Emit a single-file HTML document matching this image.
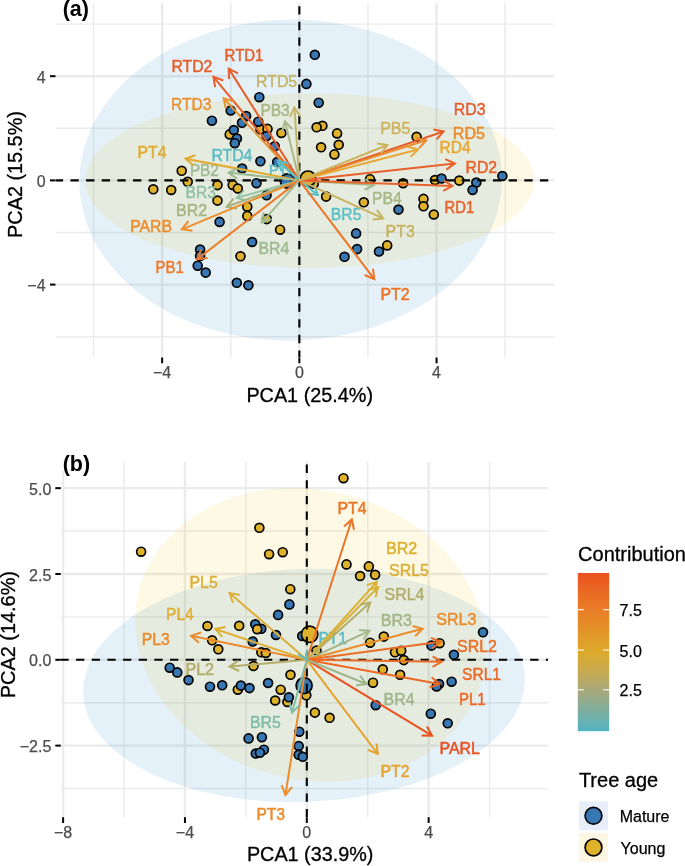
<!DOCTYPE html><html><head><meta charset="utf-8"><style>html,body{margin:0;padding:0;background:#fff;overflow:hidden}svg{display:block;will-change:transform}text{font-family:"Liberation Sans",sans-serif}</style></head><body>
<svg width="685" height="866" viewBox="0 0 685 866">
<rect width="685" height="866" fill="#fff"/>
<defs>
<clipPath id="ca"><rect x="55.5" y="2.9" width="499.20" height="354.60"/></clipPath>
<clipPath id="cb"><rect x="60.8" y="461.8" width="487.20" height="355.40"/></clipPath>
<linearGradient id="cg" x1="0" y1="1" x2="0" y2="0"><stop offset="0" stop-color="#53B5C0"/><stop offset="0.13" stop-color="#7FAEA0"/><stop offset="0.26" stop-color="#A8A878"/><stop offset="0.38" stop-color="#C8AA50"/><stop offset="0.5" stop-color="#DCAA2A"/><stop offset="0.63" stop-color="#E39428"/><stop offset="0.76" stop-color="#E97E27"/><stop offset="0.88" stop-color="#EA6A24"/><stop offset="1" stop-color="#E9501E"/></linearGradient>
</defs>
<g clip-path="url(#ca)">
<line x1="93.55" y1="2.9" x2="93.55" y2="357.5" stroke="#ebebeb" stroke-width="1.45"/>
<line x1="230.75" y1="2.9" x2="230.75" y2="357.5" stroke="#ebebeb" stroke-width="1.45"/>
<line x1="367.95" y1="2.9" x2="367.95" y2="357.5" stroke="#ebebeb" stroke-width="1.45"/>
<line x1="505.15" y1="2.9" x2="505.15" y2="357.5" stroke="#ebebeb" stroke-width="1.45"/>
<line x1="55.5" y1="336.70" x2="554.7" y2="336.70" stroke="#ebebeb" stroke-width="1.45"/>
<line x1="55.5" y1="232.50" x2="554.7" y2="232.50" stroke="#ebebeb" stroke-width="1.45"/>
<line x1="55.5" y1="128.30" x2="554.7" y2="128.30" stroke="#ebebeb" stroke-width="1.45"/>
<line x1="55.5" y1="24.10" x2="554.7" y2="24.10" stroke="#ebebeb" stroke-width="1.45"/>
<line x1="162.15" y1="2.9" x2="162.15" y2="357.5" stroke="#ebebeb" stroke-width="2.4"/>
<line x1="299.35" y1="2.9" x2="299.35" y2="357.5" stroke="#ebebeb" stroke-width="2.4"/>
<line x1="436.55" y1="2.9" x2="436.55" y2="357.5" stroke="#ebebeb" stroke-width="2.4"/>
<line x1="55.5" y1="284.60" x2="554.7" y2="284.60" stroke="#ebebeb" stroke-width="2.4"/>
<line x1="55.5" y1="180.40" x2="554.7" y2="180.40" stroke="#ebebeb" stroke-width="2.4"/>
<line x1="55.5" y1="76.20" x2="554.7" y2="76.20" stroke="#ebebeb" stroke-width="2.4"/>
<ellipse cx="290.7" cy="180.1" rx="211.3" ry="160.6" transform="rotate(-1.0 290.7 180.1)" fill="#0073C2" fill-opacity="0.1"/>
<ellipse cx="309.7" cy="180.6" rx="224.6" ry="87.4" transform="rotate(-0.1 309.7 180.6)" fill="#EFC000" fill-opacity="0.1"/>
<circle cx="229.7" cy="134.4" r="4.45" fill="#DFB22C" stroke="#000" stroke-width="1.7"/>
<circle cx="260.4" cy="129.3" r="4.45" fill="#DFB22C" stroke="#000" stroke-width="1.7"/>
<circle cx="267.5" cy="128.9" r="4.45" fill="#DFB22C" stroke="#000" stroke-width="1.7"/>
<circle cx="281.4" cy="133" r="4.45" fill="#DFB22C" stroke="#000" stroke-width="1.7"/>
<circle cx="322.4" cy="125.8" r="4.45" fill="#DFB22C" stroke="#000" stroke-width="1.7"/>
<circle cx="316.6" cy="127.3" r="4.45" fill="#DFB22C" stroke="#000" stroke-width="1.7"/>
<circle cx="337.1" cy="133.4" r="4.45" fill="#DFB22C" stroke="#000" stroke-width="1.7"/>
<circle cx="338.7" cy="144.8" r="4.45" fill="#DFB22C" stroke="#000" stroke-width="1.7"/>
<circle cx="321.1" cy="147.3" r="4.45" fill="#DFB22C" stroke="#000" stroke-width="1.7"/>
<circle cx="334.4" cy="154.4" r="4.45" fill="#DFB22C" stroke="#000" stroke-width="1.7"/>
<circle cx="181.7" cy="170.8" r="4.45" fill="#DFB22C" stroke="#000" stroke-width="1.7"/>
<circle cx="187.7" cy="181.8" r="4.45" fill="#DFB22C" stroke="#000" stroke-width="1.7"/>
<circle cx="153.3" cy="189.3" r="4.45" fill="#DFB22C" stroke="#000" stroke-width="1.7"/>
<circle cx="171.2" cy="190" r="4.45" fill="#DFB22C" stroke="#000" stroke-width="1.7"/>
<circle cx="217.5" cy="185.1" r="4.45" fill="#DFB22C" stroke="#000" stroke-width="1.7"/>
<circle cx="232.7" cy="184.9" r="4.45" fill="#DFB22C" stroke="#000" stroke-width="1.7"/>
<circle cx="237.8" cy="188.5" r="4.45" fill="#DFB22C" stroke="#000" stroke-width="1.7"/>
<circle cx="217.5" cy="200.6" r="4.45" fill="#DFB22C" stroke="#000" stroke-width="1.7"/>
<circle cx="247.3" cy="206.7" r="4.45" fill="#DFB22C" stroke="#000" stroke-width="1.7"/>
<circle cx="247.3" cy="215.9" r="4.45" fill="#DFB22C" stroke="#000" stroke-width="1.7"/>
<circle cx="266.8" cy="219.1" r="4.45" fill="#DFB22C" stroke="#000" stroke-width="1.7"/>
<circle cx="280.1" cy="229.7" r="4.45" fill="#DFB22C" stroke="#000" stroke-width="1.7"/>
<circle cx="240.5" cy="256.3" r="4.45" fill="#DFB22C" stroke="#000" stroke-width="1.7"/>
<circle cx="326.1" cy="196.6" r="4.45" fill="#DFB22C" stroke="#000" stroke-width="1.7"/>
<circle cx="363.8" cy="202.3" r="4.45" fill="#DFB22C" stroke="#000" stroke-width="1.7"/>
<circle cx="387.2" cy="245.4" r="4.45" fill="#DFB22C" stroke="#000" stroke-width="1.7"/>
<circle cx="416.6" cy="136.8" r="4.45" fill="#DFB22C" stroke="#000" stroke-width="1.7"/>
<circle cx="370" cy="179.2" r="4.45" fill="#DFB22C" stroke="#000" stroke-width="1.7"/>
<circle cx="403.1" cy="183.2" r="4.45" fill="#DFB22C" stroke="#000" stroke-width="1.7"/>
<circle cx="435" cy="180.1" r="4.45" fill="#DFB22C" stroke="#000" stroke-width="1.7"/>
<circle cx="459.3" cy="180.6" r="4.45" fill="#DFB22C" stroke="#000" stroke-width="1.7"/>
<circle cx="423.5" cy="198.9" r="4.45" fill="#DFB22C" stroke="#000" stroke-width="1.7"/>
<circle cx="423.5" cy="206.3" r="4.45" fill="#DFB22C" stroke="#000" stroke-width="1.7"/>
<circle cx="433.8" cy="214.5" r="4.45" fill="#DFB22C" stroke="#000" stroke-width="1.7"/>
<circle cx="313.8" cy="183.7" r="4.45" fill="#DFB22C" stroke="#000" stroke-width="1.7"/>
<circle cx="314.8" cy="54.8" r="4.45" fill="#3777B3" stroke="#000" stroke-width="1.7"/>
<circle cx="306.4" cy="83.9" r="4.45" fill="#3777B3" stroke="#000" stroke-width="1.7"/>
<circle cx="318.7" cy="102.7" r="4.45" fill="#3777B3" stroke="#000" stroke-width="1.7"/>
<circle cx="259.3" cy="97.2" r="4.45" fill="#3777B3" stroke="#000" stroke-width="1.7"/>
<circle cx="230.7" cy="110.5" r="4.45" fill="#3777B3" stroke="#000" stroke-width="1.7"/>
<circle cx="211.9" cy="120.7" r="4.45" fill="#3777B3" stroke="#000" stroke-width="1.7"/>
<circle cx="246.1" cy="116" r="4.45" fill="#3777B3" stroke="#000" stroke-width="1.7"/>
<circle cx="242" cy="122.8" r="4.45" fill="#3777B3" stroke="#000" stroke-width="1.7"/>
<circle cx="258.3" cy="121.7" r="4.45" fill="#3777B3" stroke="#000" stroke-width="1.7"/>
<circle cx="233.8" cy="130" r="4.45" fill="#3777B3" stroke="#000" stroke-width="1.7"/>
<circle cx="236.9" cy="138.5" r="4.45" fill="#3777B3" stroke="#000" stroke-width="1.7"/>
<circle cx="234.8" cy="143.2" r="4.45" fill="#3777B3" stroke="#000" stroke-width="1.7"/>
<circle cx="266.6" cy="136" r="4.45" fill="#3777B3" stroke="#000" stroke-width="1.7"/>
<circle cx="274.7" cy="146.3" r="4.45" fill="#3777B3" stroke="#000" stroke-width="1.7"/>
<circle cx="260.4" cy="161.3" r="4.45" fill="#3777B3" stroke="#000" stroke-width="1.7"/>
<circle cx="242.1" cy="168.5" r="4.45" fill="#3777B3" stroke="#000" stroke-width="1.7"/>
<circle cx="277.2" cy="162" r="4.45" fill="#3777B3" stroke="#000" stroke-width="1.7"/>
<circle cx="256.5" cy="183.2" r="4.45" fill="#3777B3" stroke="#000" stroke-width="1.7"/>
<circle cx="266.6" cy="195.3" r="4.45" fill="#3777B3" stroke="#000" stroke-width="1.7"/>
<circle cx="219.6" cy="221.9" r="4.45" fill="#3777B3" stroke="#000" stroke-width="1.7"/>
<circle cx="200.1" cy="249.5" r="4.45" fill="#3777B3" stroke="#000" stroke-width="1.7"/>
<circle cx="200.1" cy="255.9" r="4.45" fill="#3777B3" stroke="#000" stroke-width="1.7"/>
<circle cx="197.7" cy="265.7" r="4.45" fill="#3777B3" stroke="#000" stroke-width="1.7"/>
<circle cx="205.7" cy="272.6" r="4.45" fill="#3777B3" stroke="#000" stroke-width="1.7"/>
<circle cx="236.8" cy="282.8" r="4.45" fill="#3777B3" stroke="#000" stroke-width="1.7"/>
<circle cx="248.4" cy="285.3" r="4.45" fill="#3777B3" stroke="#000" stroke-width="1.7"/>
<circle cx="252.1" cy="242" r="4.45" fill="#3777B3" stroke="#000" stroke-width="1.7"/>
<circle cx="356.1" cy="233.4" r="4.45" fill="#3777B3" stroke="#000" stroke-width="1.7"/>
<circle cx="357.1" cy="249.1" r="4.45" fill="#3777B3" stroke="#000" stroke-width="1.7"/>
<circle cx="344.5" cy="256.8" r="4.45" fill="#3777B3" stroke="#000" stroke-width="1.7"/>
<circle cx="379" cy="251.5" r="4.45" fill="#3777B3" stroke="#000" stroke-width="1.7"/>
<circle cx="398.5" cy="209.6" r="4.45" fill="#3777B3" stroke="#000" stroke-width="1.7"/>
<circle cx="441.5" cy="178.5" r="4.45" fill="#3777B3" stroke="#000" stroke-width="1.7"/>
<circle cx="476.3" cy="182.6" r="4.45" fill="#3777B3" stroke="#000" stroke-width="1.7"/>
<circle cx="472.6" cy="190" r="4.45" fill="#3777B3" stroke="#000" stroke-width="1.7"/>
<circle cx="502.4" cy="176" r="4.45" fill="#3777B3" stroke="#000" stroke-width="1.7"/>
<circle cx="287.5" cy="181.0" r="7.2" fill="#3777B3" stroke="#000" stroke-width="1.7"/>
<circle cx="308.0" cy="178.6" r="7.6" fill="#DFB22C" stroke="#000" stroke-width="1.7"/>
<line x1="55.5" y1="180.4" x2="554.7" y2="180.4" stroke="#000" stroke-width="2.1" stroke-dasharray="8.3 7.35" stroke-dashoffset="0.70"/>
<line x1="299.35" y1="357.5" x2="299.35" y2="2.9" stroke="#000" stroke-width="2.1" stroke-dasharray="8.3 7.35" stroke-dashoffset="1.30"/>
</g>
<text x="224.6" y="60.8" font-size="16.5" fill="#E65E2A" stroke="#E65E2A" stroke-width="0.5" textLength="38.8" lengthAdjust="spacingAndGlyphs">RTD1</text>
<text x="171.5" y="71.5" font-size="16.5" fill="#E65E2A" stroke="#E65E2A" stroke-width="0.5" textLength="40.8" lengthAdjust="spacingAndGlyphs">RTD2</text>
<text x="171.0" y="110.4" font-size="16.5" fill="#E8922F" stroke="#E8922F" stroke-width="0.5" textLength="40.3" lengthAdjust="spacingAndGlyphs">RTD3</text>
<text x="256.0" y="87.4" font-size="16.5" fill="#C5B46C" stroke="#C5B46C" stroke-width="0.5" textLength="41.2" lengthAdjust="spacingAndGlyphs">RTD5</text>
<text x="260.4" y="115.6" font-size="16.5" fill="#A8B887" stroke="#A8B887" stroke-width="0.5" textLength="29.3" lengthAdjust="spacingAndGlyphs">PB3</text>
<text x="211.4" y="160.6" font-size="16.5" fill="#5ABCC3" stroke="#5ABCC3" stroke-width="0.5" textLength="40.9" lengthAdjust="spacingAndGlyphs">RTD4</text>
<text x="269.0" y="173.7" font-size="12.5" fill="#5ABCC3" stroke="#5ABCC3" stroke-width="0.5" textLength="26.0" lengthAdjust="spacingAndGlyphs">PT1</text>
<text x="137.5" y="158.3" font-size="16.5" fill="#E2AA2E" stroke="#E2AA2E" stroke-width="0.5" textLength="28.9" lengthAdjust="spacingAndGlyphs">PT4</text>
<text x="189.9" y="176.4" font-size="16.5" fill="#9DBA93" stroke="#9DBA93" stroke-width="0.5" textLength="28.9" lengthAdjust="spacingAndGlyphs">PB2</text>
<text x="185.5" y="197.6" font-size="16.5" fill="#93C2A3" stroke="#93C2A3" stroke-width="0.5" textLength="30.3" lengthAdjust="spacingAndGlyphs">BR3</text>
<text x="176.0" y="215.8" font-size="16.5" fill="#A9B380" stroke="#A9B380" stroke-width="0.5" textLength="31.0" lengthAdjust="spacingAndGlyphs">BR2</text>
<text x="130.2" y="231.7" font-size="16.5" fill="#EC8D2E" stroke="#EC8D2E" stroke-width="0.5" textLength="41.8" lengthAdjust="spacingAndGlyphs">PARB</text>
<text x="155.6" y="273.0" font-size="16.5" fill="#EC7A28" stroke="#EC7A28" stroke-width="0.5" textLength="28.2" lengthAdjust="spacingAndGlyphs">PB1</text>
<text x="258.6" y="254.2" font-size="16.5" fill="#9DBA92" stroke="#9DBA92" stroke-width="0.5" textLength="30.7" lengthAdjust="spacingAndGlyphs">BR4</text>
<text x="330.8" y="219.5" font-size="16.5" fill="#5CBFC5" stroke="#5CBFC5" stroke-width="0.5" textLength="30.6" lengthAdjust="spacingAndGlyphs">BR5</text>
<text x="380.5" y="299.6" font-size="16.5" fill="#EE7324" stroke="#EE7324" stroke-width="0.5" textLength="29.2" lengthAdjust="spacingAndGlyphs">PT2</text>
<text x="385.6" y="237.2" font-size="16.5" fill="#C8B262" stroke="#C8B262" stroke-width="0.5" textLength="29.2" lengthAdjust="spacingAndGlyphs">PT3</text>
<text x="372.0" y="204.0" font-size="16.5" fill="#A5B888" stroke="#A5B888" stroke-width="0.5" textLength="29.7" lengthAdjust="spacingAndGlyphs">PB4</text>
<text x="444.6" y="213.3" font-size="16.5" fill="#E8622A" stroke="#E8622A" stroke-width="0.5" textLength="29.6" lengthAdjust="spacingAndGlyphs">RD1</text>
<text x="465.6" y="173.0" font-size="16.5" fill="#E8602A" stroke="#E8602A" stroke-width="0.5" textLength="31.5" lengthAdjust="spacingAndGlyphs">RD2</text>
<text x="453.8" y="115.2" font-size="16.5" fill="#E65E2A" stroke="#E65E2A" stroke-width="0.5" textLength="31.7" lengthAdjust="spacingAndGlyphs">RD3</text>
<text x="452.8" y="139.3" font-size="16.5" fill="#EC8A2C" stroke="#EC8A2C" stroke-width="0.5" textLength="32.1" lengthAdjust="spacingAndGlyphs">RD5</text>
<text x="439.5" y="152.6" font-size="16.5" fill="#E8A733" stroke="#E8A733" stroke-width="0.5" textLength="31.1" lengthAdjust="spacingAndGlyphs">RD4</text>
<text x="380.2" y="133.8" font-size="16.5" fill="#CDB35E" stroke="#CDB35E" stroke-width="0.5" textLength="30.1" lengthAdjust="spacingAndGlyphs">PB5</text>
<g clip-path="url(#ca)">
<line x1="299.35" y1="180.4" x2="228.70" y2="68.60" stroke="#E65E2A" stroke-width="2.0"/><polyline points="238.00,73.48 228.70,68.60 229.12,79.09" fill="none" stroke="#E65E2A" stroke-width="2.0" stroke-linejoin="miter" stroke-linecap="butt"/>
<line x1="299.35" y1="180.4" x2="213.40" y2="76.80" stroke="#E65E2A" stroke-width="2.0"/><polyline points="223.25,80.45 213.40,76.80 215.17,87.15" fill="none" stroke="#E65E2A" stroke-width="2.0" stroke-linejoin="miter" stroke-linecap="butt"/>
<line x1="299.35" y1="180.4" x2="223.60" y2="98.20" stroke="#E8922F" stroke-width="2.0"/><polyline points="233.62,101.33 223.60,98.20 225.90,108.44" fill="none" stroke="#E8922F" stroke-width="2.0" stroke-linejoin="miter" stroke-linecap="butt"/>
<line x1="299.35" y1="180.4" x2="294.40" y2="107.60" stroke="#C5B46C" stroke-width="2.0"/><polyline points="300.25,116.32 294.40,107.60 289.78,117.03" fill="none" stroke="#C5B46C" stroke-width="2.0" stroke-linejoin="miter" stroke-linecap="butt"/>
<line x1="299.35" y1="180.4" x2="285.00" y2="121.50" stroke="#A8B887" stroke-width="2.0"/><polyline points="292.25,129.09 285.00,121.50 282.05,131.58" fill="none" stroke="#A8B887" stroke-width="2.0" stroke-linejoin="miter" stroke-linecap="butt"/>
<line x1="299.35" y1="180.4" x2="278.10" y2="161.00" stroke="#5ABCC3" stroke-width="2.0"/><polyline points="288.36,163.25 278.10,161.00 281.28,171.01" fill="none" stroke="#5ABCC3" stroke-width="2.0" stroke-linejoin="miter" stroke-linecap="butt"/>
<line x1="299.35" y1="180.4" x2="278.10" y2="161.00" stroke="#5ABCC3" stroke-width="2.0"/><polyline points="288.36,163.25 278.10,161.00 281.28,171.01" fill="none" stroke="#5ABCC3" stroke-width="2.0" stroke-linejoin="miter" stroke-linecap="butt"/>
<line x1="299.35" y1="180.4" x2="185.50" y2="158.70" stroke="#E2AA2E" stroke-width="2.0"/><polyline points="195.42,155.25 185.50,158.70 193.45,165.56" fill="none" stroke="#E2AA2E" stroke-width="2.0" stroke-linejoin="miter" stroke-linecap="butt"/>
<line x1="299.35" y1="180.4" x2="228.60" y2="172.60" stroke="#9DBA93" stroke-width="2.0"/><polyline points="238.21,168.38 228.60,172.60 237.06,178.81" fill="none" stroke="#9DBA93" stroke-width="2.0" stroke-linejoin="miter" stroke-linecap="butt"/>
<line x1="299.35" y1="180.4" x2="236.60" y2="197.90" stroke="#93C2A3" stroke-width="2.0"/><polyline points="243.95,190.40 236.60,197.90 246.77,200.51" fill="none" stroke="#93C2A3" stroke-width="2.0" stroke-linejoin="miter" stroke-linecap="butt"/>
<line x1="299.35" y1="180.4" x2="226.70" y2="206.80" stroke="#A9B380" stroke-width="2.0"/><polyline points="233.45,198.76 226.70,206.80 237.04,208.63" fill="none" stroke="#A9B380" stroke-width="2.0" stroke-linejoin="miter" stroke-linecap="butt"/>
<line x1="299.35" y1="180.4" x2="182.00" y2="229.30" stroke="#EC8D2E" stroke-width="2.0"/><polyline points="188.37,220.96 182.00,229.30 192.41,230.65" fill="none" stroke="#EC8D2E" stroke-width="2.0" stroke-linejoin="miter" stroke-linecap="butt"/>
<line x1="299.35" y1="180.4" x2="197.10" y2="259.30" stroke="#EC7A28" stroke-width="2.0"/><polyline points="201.09,249.59 197.10,259.30 207.51,257.90" fill="none" stroke="#EC7A28" stroke-width="2.0" stroke-linejoin="miter" stroke-linecap="butt"/>
<line x1="299.35" y1="180.4" x2="261.70" y2="222.60" stroke="#9DBA92" stroke-width="2.0"/><polyline points="263.84,212.32 261.70,222.60 271.67,219.31" fill="none" stroke="#9DBA92" stroke-width="2.0" stroke-linejoin="miter" stroke-linecap="butt"/>
<line x1="299.35" y1="180.4" x2="317.90" y2="195.00" stroke="#5CBFC5" stroke-width="2.0"/><polyline points="307.51,193.50 317.90,195.00 314.00,185.25" fill="none" stroke="#5CBFC5" stroke-width="2.0" stroke-linejoin="miter" stroke-linecap="butt"/>
<line x1="299.35" y1="180.4" x2="374.30" y2="279.10" stroke="#EE7324" stroke-width="2.0"/><polyline points="364.62,275.03 374.30,279.10 372.98,268.68" fill="none" stroke="#EE7324" stroke-width="2.0" stroke-linejoin="miter" stroke-linecap="butt"/>
<line x1="299.35" y1="180.4" x2="383.10" y2="218.40" stroke="#C8B262" stroke-width="2.0"/><polyline points="372.65,219.42 383.10,218.40 376.99,209.86" fill="none" stroke="#C8B262" stroke-width="2.0" stroke-linejoin="miter" stroke-linecap="butt"/>
<line x1="299.35" y1="180.4" x2="374.00" y2="185.10" stroke="#A5B888" stroke-width="2.0"/><polyline points="364.59,189.77 374.00,185.10 365.25,179.29" fill="none" stroke="#A5B888" stroke-width="2.0" stroke-linejoin="miter" stroke-linecap="butt"/>
<line x1="299.35" y1="180.4" x2="452.50" y2="186.00" stroke="#E8622A" stroke-width="2.0"/><polyline points="443.22,190.91 452.50,186.00 443.60,180.42" fill="none" stroke="#E8622A" stroke-width="2.0" stroke-linejoin="miter" stroke-linecap="butt"/>
<line x1="299.35" y1="180.4" x2="454.80" y2="163.40" stroke="#E8602A" stroke-width="2.0"/><polyline points="446.33,169.61 454.80,163.40 445.19,159.17" fill="none" stroke="#E8602A" stroke-width="2.0" stroke-linejoin="miter" stroke-linecap="butt"/>
<line x1="299.35" y1="180.4" x2="443.60" y2="131.50" stroke="#E65E2A" stroke-width="2.0"/><polyline points="436.67,139.39 443.60,131.50 433.30,129.45" fill="none" stroke="#E65E2A" stroke-width="2.0" stroke-linejoin="miter" stroke-linecap="butt"/>
<line x1="299.35" y1="180.4" x2="426.20" y2="140.30" stroke="#EC8A2C" stroke-width="2.0"/><polyline points="419.11,148.05 426.20,140.30 415.95,138.04" fill="none" stroke="#EC8A2C" stroke-width="2.0" stroke-linejoin="miter" stroke-linecap="butt"/>
<line x1="299.35" y1="180.4" x2="418.00" y2="149.50" stroke="#E8A733" stroke-width="2.0"/><polyline points="410.52,156.87 418.00,149.50 407.88,146.71" fill="none" stroke="#E8A733" stroke-width="2.0" stroke-linejoin="miter" stroke-linecap="butt"/>
<line x1="299.35" y1="180.4" x2="387.40" y2="145.00" stroke="#CDB35E" stroke-width="2.0"/><polyline points="380.92,153.26 387.40,145.00 377.00,143.52" fill="none" stroke="#CDB35E" stroke-width="2.0" stroke-linejoin="miter" stroke-linecap="butt"/>
</g>
<g clip-path="url(#cb)">
<line x1="124.04" y1="461.8" x2="124.04" y2="817.2" stroke="#ebebeb" stroke-width="1.45"/>
<line x1="245.88" y1="461.8" x2="245.88" y2="817.2" stroke="#ebebeb" stroke-width="1.45"/>
<line x1="367.72" y1="461.8" x2="367.72" y2="817.2" stroke="#ebebeb" stroke-width="1.45"/>
<line x1="489.56" y1="461.8" x2="489.56" y2="817.2" stroke="#ebebeb" stroke-width="1.45"/>
<line x1="60.8" y1="788.54" x2="548.0" y2="788.54" stroke="#ebebeb" stroke-width="1.45"/>
<line x1="60.8" y1="702.71" x2="548.0" y2="702.71" stroke="#ebebeb" stroke-width="1.45"/>
<line x1="60.8" y1="616.89" x2="548.0" y2="616.89" stroke="#ebebeb" stroke-width="1.45"/>
<line x1="60.8" y1="531.06" x2="548.0" y2="531.06" stroke="#ebebeb" stroke-width="1.45"/>
<line x1="63.12" y1="461.8" x2="63.12" y2="817.2" stroke="#ebebeb" stroke-width="2.4"/>
<line x1="184.96" y1="461.8" x2="184.96" y2="817.2" stroke="#ebebeb" stroke-width="2.4"/>
<line x1="306.80" y1="461.8" x2="306.80" y2="817.2" stroke="#ebebeb" stroke-width="2.4"/>
<line x1="428.64" y1="461.8" x2="428.64" y2="817.2" stroke="#ebebeb" stroke-width="2.4"/>
<line x1="60.8" y1="745.62" x2="548.0" y2="745.62" stroke="#ebebeb" stroke-width="2.4"/>
<line x1="60.8" y1="659.80" x2="548.0" y2="659.80" stroke="#ebebeb" stroke-width="2.4"/>
<line x1="60.8" y1="573.97" x2="548.0" y2="573.97" stroke="#ebebeb" stroke-width="2.4"/>
<line x1="60.8" y1="488.15" x2="548.0" y2="488.15" stroke="#ebebeb" stroke-width="2.4"/>
<ellipse cx="304.0" cy="685.4" rx="221.0" ry="116.5" transform="rotate(-2.1 304.0 685.4)" fill="#0073C2" fill-opacity="0.1"/>
<ellipse cx="310.5" cy="634.85" rx="177.2" ry="144.8" transform="rotate(14.0 310.5 634.85)" fill="#EFC000" fill-opacity="0.1"/>
<circle cx="343.5" cy="478.2" r="4.45" fill="#DFB22C" stroke="#000" stroke-width="1.7"/>
<circle cx="141.1" cy="551.7" r="4.45" fill="#DFB22C" stroke="#000" stroke-width="1.7"/>
<circle cx="259.4" cy="527.8" r="4.45" fill="#DFB22C" stroke="#000" stroke-width="1.7"/>
<circle cx="269.1" cy="554.2" r="4.45" fill="#DFB22C" stroke="#000" stroke-width="1.7"/>
<circle cx="282.7" cy="552.2" r="4.45" fill="#DFB22C" stroke="#000" stroke-width="1.7"/>
<circle cx="346.5" cy="564.4" r="4.45" fill="#DFB22C" stroke="#000" stroke-width="1.7"/>
<circle cx="368.8" cy="566.4" r="4.45" fill="#DFB22C" stroke="#000" stroke-width="1.7"/>
<circle cx="360.1" cy="576" r="4.45" fill="#DFB22C" stroke="#000" stroke-width="1.7"/>
<circle cx="375.1" cy="574.8" r="4.45" fill="#DFB22C" stroke="#000" stroke-width="1.7"/>
<circle cx="290.3" cy="589.2" r="4.45" fill="#DFB22C" stroke="#000" stroke-width="1.7"/>
<circle cx="207.5" cy="626" r="4.45" fill="#DFB22C" stroke="#000" stroke-width="1.7"/>
<circle cx="212.1" cy="640.3" r="4.45" fill="#DFB22C" stroke="#000" stroke-width="1.7"/>
<circle cx="218.3" cy="649.3" r="4.45" fill="#DFB22C" stroke="#000" stroke-width="1.7"/>
<circle cx="239.2" cy="625.8" r="4.45" fill="#DFB22C" stroke="#000" stroke-width="1.7"/>
<circle cx="261.3" cy="652.3" r="4.45" fill="#DFB22C" stroke="#000" stroke-width="1.7"/>
<circle cx="265.8" cy="653" r="4.45" fill="#DFB22C" stroke="#000" stroke-width="1.7"/>
<circle cx="253.5" cy="666" r="4.45" fill="#DFB22C" stroke="#000" stroke-width="1.7"/>
<circle cx="316.5" cy="650.6" r="4.45" fill="#DFB22C" stroke="#000" stroke-width="1.7"/>
<circle cx="290.5" cy="674.8" r="4.45" fill="#DFB22C" stroke="#000" stroke-width="1.7"/>
<circle cx="306.3" cy="695.3" r="4.45" fill="#DFB22C" stroke="#000" stroke-width="1.7"/>
<circle cx="237.8" cy="689.7" r="4.45" fill="#DFB22C" stroke="#000" stroke-width="1.7"/>
<circle cx="280.7" cy="689.7" r="4.45" fill="#DFB22C" stroke="#000" stroke-width="1.7"/>
<circle cx="275.2" cy="700.5" r="4.45" fill="#DFB22C" stroke="#000" stroke-width="1.7"/>
<circle cx="287.4" cy="702" r="4.45" fill="#DFB22C" stroke="#000" stroke-width="1.7"/>
<circle cx="314.9" cy="712.6" r="4.45" fill="#DFB22C" stroke="#000" stroke-width="1.7"/>
<circle cx="329.6" cy="717.8" r="4.45" fill="#DFB22C" stroke="#000" stroke-width="1.7"/>
<circle cx="370.1" cy="642.7" r="4.45" fill="#DFB22C" stroke="#000" stroke-width="1.7"/>
<circle cx="383.8" cy="636.6" r="4.45" fill="#DFB22C" stroke="#000" stroke-width="1.7"/>
<circle cx="395" cy="652.3" r="4.45" fill="#DFB22C" stroke="#000" stroke-width="1.7"/>
<circle cx="401.2" cy="650.7" r="4.45" fill="#DFB22C" stroke="#000" stroke-width="1.7"/>
<circle cx="403.8" cy="660.1" r="4.45" fill="#DFB22C" stroke="#000" stroke-width="1.7"/>
<circle cx="382.8" cy="669.3" r="4.45" fill="#DFB22C" stroke="#000" stroke-width="1.7"/>
<circle cx="400.1" cy="674.8" r="4.45" fill="#DFB22C" stroke="#000" stroke-width="1.7"/>
<circle cx="373" cy="682.7" r="4.45" fill="#DFB22C" stroke="#000" stroke-width="1.7"/>
<circle cx="289.4" cy="604.4" r="4.45" fill="#3777B3" stroke="#000" stroke-width="1.7"/>
<circle cx="278.1" cy="614.9" r="4.45" fill="#3777B3" stroke="#000" stroke-width="1.7"/>
<circle cx="255.2" cy="624.3" r="4.45" fill="#3777B3" stroke="#000" stroke-width="1.7"/>
<circle cx="261.3" cy="628.8" r="4.45" fill="#3777B3" stroke="#000" stroke-width="1.7"/>
<circle cx="276" cy="635" r="4.45" fill="#3777B3" stroke="#000" stroke-width="1.7"/>
<circle cx="252.7" cy="641.5" r="4.45" fill="#3777B3" stroke="#000" stroke-width="1.7"/>
<circle cx="302.2" cy="636" r="4.45" fill="#3777B3" stroke="#000" stroke-width="1.7"/>
<circle cx="169.7" cy="667.7" r="4.45" fill="#3777B3" stroke="#000" stroke-width="1.7"/>
<circle cx="177.3" cy="672.4" r="4.45" fill="#3777B3" stroke="#000" stroke-width="1.7"/>
<circle cx="188.5" cy="680.1" r="4.45" fill="#3777B3" stroke="#000" stroke-width="1.7"/>
<circle cx="210" cy="686.7" r="4.45" fill="#3777B3" stroke="#000" stroke-width="1.7"/>
<circle cx="222.2" cy="685.3" r="4.45" fill="#3777B3" stroke="#000" stroke-width="1.7"/>
<circle cx="240.9" cy="685.6" r="4.45" fill="#3777B3" stroke="#000" stroke-width="1.7"/>
<circle cx="249.5" cy="688.1" r="4.45" fill="#3777B3" stroke="#000" stroke-width="1.7"/>
<circle cx="268.1" cy="683" r="4.45" fill="#3777B3" stroke="#000" stroke-width="1.7"/>
<circle cx="288.9" cy="697.3" r="4.45" fill="#3777B3" stroke="#000" stroke-width="1.7"/>
<circle cx="299.3" cy="731.7" r="4.45" fill="#3777B3" stroke="#000" stroke-width="1.7"/>
<circle cx="248.6" cy="738.4" r="4.45" fill="#3777B3" stroke="#000" stroke-width="1.7"/>
<circle cx="261.9" cy="737.2" r="4.45" fill="#3777B3" stroke="#000" stroke-width="1.7"/>
<circle cx="263.9" cy="749.7" r="4.45" fill="#3777B3" stroke="#000" stroke-width="1.7"/>
<circle cx="255.8" cy="753.5" r="4.45" fill="#3777B3" stroke="#000" stroke-width="1.7"/>
<circle cx="259.9" cy="752.7" r="4.45" fill="#3777B3" stroke="#000" stroke-width="1.7"/>
<circle cx="298.7" cy="746" r="4.45" fill="#3777B3" stroke="#000" stroke-width="1.7"/>
<circle cx="298.7" cy="754.8" r="4.45" fill="#3777B3" stroke="#000" stroke-width="1.7"/>
<circle cx="302.8" cy="756.8" r="4.45" fill="#3777B3" stroke="#000" stroke-width="1.7"/>
<circle cx="375.7" cy="705.2" r="4.45" fill="#3777B3" stroke="#000" stroke-width="1.7"/>
<circle cx="430.8" cy="713.7" r="4.45" fill="#3777B3" stroke="#000" stroke-width="1.7"/>
<circle cx="447.7" cy="723.3" r="4.45" fill="#3777B3" stroke="#000" stroke-width="1.7"/>
<circle cx="439.1" cy="684.1" r="4.45" fill="#3777B3" stroke="#000" stroke-width="1.7"/>
<circle cx="436.6" cy="686.5" r="4.45" fill="#3777B3" stroke="#000" stroke-width="1.7"/>
<circle cx="451.6" cy="681.7" r="4.45" fill="#3777B3" stroke="#000" stroke-width="1.7"/>
<circle cx="453.9" cy="654.8" r="4.45" fill="#3777B3" stroke="#000" stroke-width="1.7"/>
<circle cx="431.5" cy="645.6" r="4.45" fill="#3777B3" stroke="#000" stroke-width="1.7"/>
<circle cx="483" cy="632.3" r="4.45" fill="#3777B3" stroke="#000" stroke-width="1.7"/>
<circle cx="257.2" cy="629.2" r="4.45" fill="#DFB22C" stroke="#000" stroke-width="1.7"/>
<circle cx="439.6" cy="643.2" r="4.45" fill="#DFB22C" stroke="#000" stroke-width="1.7"/>
<circle cx="304.1" cy="685.6" r="8" fill="#3777B3" stroke="#000" stroke-width="1.7"/>
<circle cx="309.6" cy="634.3" r="8.2" fill="#DFB22C" stroke="#000" stroke-width="1.7"/>
<line x1="60.8" y1="659.8" x2="548.0" y2="659.8" stroke="#000" stroke-width="2.1" stroke-dasharray="8.3 7.36" stroke-dashoffset="0.40"/>
<line x1="306.8" y1="817.2" x2="306.8" y2="461.8" stroke="#000" stroke-width="2.1" stroke-dasharray="8.3 7.36" stroke-dashoffset="0.20"/>
</g>
<text x="337.5" y="513.9" font-size="16.5" fill="#EC7326" stroke="#EC7326" stroke-width="0.5" textLength="29.1" lengthAdjust="spacingAndGlyphs">PT4</text>
<text x="386.0" y="554.4" font-size="16.5" fill="#DDB031" stroke="#DDB031" stroke-width="0.5" textLength="31.3" lengthAdjust="spacingAndGlyphs">BR2</text>
<text x="389.0" y="576.3" font-size="16.5" fill="#D9B038" stroke="#D9B038" stroke-width="0.5" textLength="39.9" lengthAdjust="spacingAndGlyphs">SRL5</text>
<text x="384.6" y="599.6" font-size="16.5" fill="#B3AE6C" stroke="#B3AE6C" stroke-width="0.5" textLength="39.8" lengthAdjust="spacingAndGlyphs">SRL4</text>
<text x="380.7" y="626.4" font-size="16.5" fill="#A4B587" stroke="#A4B587" stroke-width="0.5" textLength="31.3" lengthAdjust="spacingAndGlyphs">BR3</text>
<text x="436.2" y="624.8" font-size="16.5" fill="#EB8D2C" stroke="#EB8D2C" stroke-width="0.5" textLength="40.2" lengthAdjust="spacingAndGlyphs">SRL3</text>
<text x="457.0" y="651.7" font-size="16.5" fill="#EC6E26" stroke="#EC6E26" stroke-width="0.5" textLength="39.9" lengthAdjust="spacingAndGlyphs">SRL2</text>
<text x="462.1" y="679.7" font-size="16.5" fill="#EC6A27" stroke="#EC6A27" stroke-width="0.5" textLength="38.8" lengthAdjust="spacingAndGlyphs">SRL1</text>
<text x="459.0" y="704.9" font-size="16.5" fill="#EC6826" stroke="#EC6826" stroke-width="0.5" textLength="26.6" lengthAdjust="spacingAndGlyphs">PL1</text>
<text x="439.5" y="753.6" font-size="16.5" fill="#E9511F" stroke="#E9511F" stroke-width="0.5" textLength="40.5" lengthAdjust="spacingAndGlyphs">PARL</text>
<text x="380.5" y="776.7" font-size="16.5" fill="#E5A12C" stroke="#E5A12C" stroke-width="0.5" textLength="29.0" lengthAdjust="spacingAndGlyphs">PT2</text>
<text x="383.6" y="704.5" font-size="16.5" fill="#9FB68C" stroke="#9FB68C" stroke-width="0.5" textLength="30.9" lengthAdjust="spacingAndGlyphs">BR4</text>
<text x="256.4" y="819.6" font-size="16.5" fill="#EC8C2C" stroke="#EC8C2C" stroke-width="0.5" textLength="28.6" lengthAdjust="spacingAndGlyphs">PT3</text>
<text x="250.1" y="727.8" font-size="16.5" fill="#80BDA8" stroke="#80BDA8" stroke-width="0.5" textLength="30.7" lengthAdjust="spacingAndGlyphs">BR5</text>
<text x="185.4" y="674.8" font-size="16.5" fill="#B5AD6A" stroke="#B5AD6A" stroke-width="0.5" textLength="28.7" lengthAdjust="spacingAndGlyphs">PL2</text>
<text x="141.7" y="644.8" font-size="16.5" fill="#EC8A2E" stroke="#EC8A2E" stroke-width="0.5" textLength="28.0" lengthAdjust="spacingAndGlyphs">PL3</text>
<text x="166.0" y="620.2" font-size="16.5" fill="#DFAF35" stroke="#DFAF35" stroke-width="0.5" textLength="27.8" lengthAdjust="spacingAndGlyphs">PL4</text>
<text x="189.5" y="587.5" font-size="16.5" fill="#DDAE3A" stroke="#DDAE3A" stroke-width="0.5" textLength="28.2" lengthAdjust="spacingAndGlyphs">PL5</text>
<text x="318.4" y="644.2" font-size="16.5" fill="#5ABCC3" stroke="#5ABCC3" stroke-width="0.5" textLength="28.6" lengthAdjust="spacingAndGlyphs">PT1</text>
<g clip-path="url(#cb)">
<line x1="306.8" y1="659.8" x2="351.80" y2="519.50" stroke="#EC7326" stroke-width="2.0"/><polyline points="354.02,529.76 351.80,519.50 344.02,526.56" fill="none" stroke="#EC7326" stroke-width="2.0" stroke-linejoin="miter" stroke-linecap="butt"/>
<line x1="306.8" y1="659.8" x2="376.80" y2="581.90" stroke="#DDB031" stroke-width="2.0"/><polyline points="374.63,592.17 376.80,581.90 366.82,585.15" fill="none" stroke="#DDB031" stroke-width="2.0" stroke-linejoin="miter" stroke-linecap="butt"/>
<line x1="306.8" y1="659.8" x2="378.10" y2="587.10" stroke="#D9B038" stroke-width="2.0"/><polyline points="375.48,597.27 378.10,587.10 367.98,589.92" fill="none" stroke="#D9B038" stroke-width="2.0" stroke-linejoin="miter" stroke-linecap="butt"/>
<line x1="306.8" y1="659.8" x2="370.20" y2="602.50" stroke="#B3AE6C" stroke-width="2.0"/><polyline points="366.97,612.49 370.20,602.50 359.93,604.70" fill="none" stroke="#B3AE6C" stroke-width="2.0" stroke-linejoin="miter" stroke-linecap="butt"/>
<line x1="306.8" y1="659.8" x2="369.50" y2="630.90" stroke="#A4B587" stroke-width="2.0"/><polyline points="363.44,639.47 369.50,630.90 359.04,629.94" fill="none" stroke="#A4B587" stroke-width="2.0" stroke-linejoin="miter" stroke-linecap="butt"/>
<line x1="306.8" y1="659.8" x2="422.60" y2="628.80" stroke="#EB8D2C" stroke-width="2.0"/><polyline points="415.17,636.22 422.60,628.80 412.46,626.08" fill="none" stroke="#EB8D2C" stroke-width="2.0" stroke-linejoin="miter" stroke-linecap="butt"/>
<line x1="306.8" y1="659.8" x2="440.70" y2="641.80" stroke="#EC6E26" stroke-width="2.0"/><polyline points="432.39,648.21 440.70,641.80 430.99,637.81" fill="none" stroke="#EC6E26" stroke-width="2.0" stroke-linejoin="miter" stroke-linecap="butt"/>
<line x1="306.8" y1="659.8" x2="441.70" y2="661.80" stroke="#EC6A27" stroke-width="2.0"/><polyline points="432.53,666.91 441.70,661.80 432.69,656.42" fill="none" stroke="#EC6A27" stroke-width="2.0" stroke-linejoin="miter" stroke-linecap="butt"/>
<line x1="306.8" y1="659.8" x2="439.60" y2="684.00" stroke="#EC6826" stroke-width="2.0"/><polyline points="429.71,687.53 439.60,684.00 431.60,677.20" fill="none" stroke="#EC6826" stroke-width="2.0" stroke-linejoin="miter" stroke-linecap="butt"/>
<line x1="306.8" y1="659.8" x2="432.00" y2="735.60" stroke="#E9511F" stroke-width="2.0"/><polyline points="421.50,735.38 432.00,735.60 426.94,726.40" fill="none" stroke="#E9511F" stroke-width="2.0" stroke-linejoin="miter" stroke-linecap="butt"/>
<line x1="306.8" y1="659.8" x2="377.80" y2="754.00" stroke="#E5A12C" stroke-width="2.0"/><polyline points="368.13,749.90 377.80,754.00 376.52,743.58" fill="none" stroke="#E5A12C" stroke-width="2.0" stroke-linejoin="miter" stroke-linecap="butt"/>
<line x1="306.8" y1="659.8" x2="366.40" y2="684.00" stroke="#9FB68C" stroke-width="2.0"/><polyline points="356.00,685.44 366.40,684.00 359.95,675.71" fill="none" stroke="#9FB68C" stroke-width="2.0" stroke-linejoin="miter" stroke-linecap="butt"/>
<line x1="306.8" y1="659.8" x2="285.40" y2="795.00" stroke="#EC8C2C" stroke-width="2.0"/><polyline points="281.64,785.20 285.40,795.00 292.01,786.84" fill="none" stroke="#EC8C2C" stroke-width="2.0" stroke-linejoin="miter" stroke-linecap="butt"/>
<line x1="306.8" y1="659.8" x2="292.00" y2="712.60" stroke="#80BDA8" stroke-width="2.0"/><polyline points="289.40,702.43 292.00,712.60 299.51,705.26" fill="none" stroke="#80BDA8" stroke-width="2.0" stroke-linejoin="miter" stroke-linecap="butt"/>
<line x1="306.8" y1="659.8" x2="229.60" y2="666.60" stroke="#B5AD6A" stroke-width="2.0"/><polyline points="238.20,660.57 229.60,666.60 239.12,671.03" fill="none" stroke="#B5AD6A" stroke-width="2.0" stroke-linejoin="miter" stroke-linecap="butt"/>
<line x1="306.8" y1="659.8" x2="191.10" y2="635.80" stroke="#EC8A2E" stroke-width="2.0"/><polyline points="201.07,632.51 191.10,635.80 198.94,642.79" fill="none" stroke="#EC8A2E" stroke-width="2.0" stroke-linejoin="miter" stroke-linecap="butt"/>
<line x1="306.8" y1="659.8" x2="215.30" y2="629.00" stroke="#DFAF35" stroke-width="2.0"/><polyline points="225.59,626.93 215.30,629.00 222.24,636.88" fill="none" stroke="#DFAF35" stroke-width="2.0" stroke-linejoin="miter" stroke-linecap="butt"/>
<line x1="306.8" y1="659.8" x2="229.50" y2="593.00" stroke="#DDAE3A" stroke-width="2.0"/><polyline points="239.81,594.97 229.50,593.00 232.95,602.92" fill="none" stroke="#DDAE3A" stroke-width="2.0" stroke-linejoin="miter" stroke-linecap="butt"/>
<line x1="306.8" y1="659.8" x2="298.3" y2="654.2" stroke="#5ABCC3" stroke-width="2"/><line x1="306.8" y1="659.8" x2="307.1" y2="649.6" stroke="#5ABCC3" stroke-width="2"/>
</g>
<line x1="50.00" y1="76.20" x2="55.50" y2="76.20" stroke="#000" stroke-width="2"/><text x="45.6" y="82.80" font-size="16" fill="#4D4D4D" stroke="#4D4D4D" stroke-width="0.25" text-anchor="end">4</text>
<line x1="50.00" y1="180.40" x2="55.50" y2="180.40" stroke="#000" stroke-width="2"/><text x="45.6" y="187.00" font-size="16" fill="#4D4D4D" stroke="#4D4D4D" stroke-width="0.25" text-anchor="end">0</text>
<line x1="50.00" y1="284.60" x2="55.50" y2="284.60" stroke="#000" stroke-width="2"/><text x="45.6" y="291.20" font-size="16" fill="#4D4D4D" stroke="#4D4D4D" stroke-width="0.25" text-anchor="end">−4</text>
<line x1="162.15" y1="357.50" x2="162.15" y2="363.30" stroke="#000" stroke-width="2"/><text x="162.15" y="378.0" font-size="16" fill="#4D4D4D" stroke="#4D4D4D" stroke-width="0.25" text-anchor="middle">−4</text>
<line x1="299.35" y1="357.50" x2="299.35" y2="363.30" stroke="#000" stroke-width="2"/><text x="299.35" y="378.0" font-size="16" fill="#4D4D4D" stroke="#4D4D4D" stroke-width="0.25" text-anchor="middle">0</text>
<line x1="436.55" y1="357.50" x2="436.55" y2="363.30" stroke="#000" stroke-width="2"/><text x="436.55" y="378.0" font-size="16" fill="#4D4D4D" stroke="#4D4D4D" stroke-width="0.25" text-anchor="middle">4</text>
<line x1="55.30" y1="488.15" x2="60.80" y2="488.15" stroke="#000" stroke-width="2"/><text x="51.3" y="494.75" font-size="16" fill="#4D4D4D" stroke="#4D4D4D" stroke-width="0.25" text-anchor="end">5.0</text>
<line x1="55.30" y1="573.97" x2="60.80" y2="573.97" stroke="#000" stroke-width="2"/><text x="51.3" y="580.57" font-size="16" fill="#4D4D4D" stroke="#4D4D4D" stroke-width="0.25" text-anchor="end">2.5</text>
<line x1="55.30" y1="659.80" x2="60.80" y2="659.80" stroke="#000" stroke-width="2"/><text x="51.3" y="666.40" font-size="16" fill="#4D4D4D" stroke="#4D4D4D" stroke-width="0.25" text-anchor="end">0.0</text>
<line x1="55.30" y1="745.62" x2="60.80" y2="745.62" stroke="#000" stroke-width="2"/><text x="51.3" y="752.23" font-size="16" fill="#4D4D4D" stroke="#4D4D4D" stroke-width="0.25" text-anchor="end">−2.5</text>
<line x1="63.12" y1="817.20" x2="63.12" y2="823.00" stroke="#000" stroke-width="2"/><text x="63.12" y="838.0" font-size="16" fill="#4D4D4D" stroke="#4D4D4D" stroke-width="0.25" text-anchor="middle">−8</text>
<line x1="184.96" y1="817.20" x2="184.96" y2="823.00" stroke="#000" stroke-width="2"/><text x="184.96" y="838.0" font-size="16" fill="#4D4D4D" stroke="#4D4D4D" stroke-width="0.25" text-anchor="middle">−4</text>
<line x1="306.80" y1="817.20" x2="306.80" y2="823.00" stroke="#000" stroke-width="2"/><text x="306.80" y="838.0" font-size="16" fill="#4D4D4D" stroke="#4D4D4D" stroke-width="0.25" text-anchor="middle">0</text>
<line x1="428.64" y1="817.20" x2="428.64" y2="823.00" stroke="#000" stroke-width="2"/><text x="428.64" y="838.0" font-size="16" fill="#4D4D4D" stroke="#4D4D4D" stroke-width="0.25" text-anchor="middle">4</text>
<text x="246.4" y="402.2" font-size="20" fill="#000" stroke="#000" stroke-width="0.3" textLength="126.6" lengthAdjust="spacingAndGlyphs">PCA1 (25.4%)</text>
<text x="246.9" y="860.6" font-size="20" fill="#000" stroke="#000" stroke-width="0.3" textLength="126.5" lengthAdjust="spacingAndGlyphs">PCA1 (33.9%)</text>
<text transform="translate(21.7 237.9) rotate(-90)" x="0" y="0" font-size="20" fill="#000" stroke="#000" stroke-width="0.3" textLength="126.8" lengthAdjust="spacingAndGlyphs">PCA2 (15.5%)</text>
<text transform="translate(14.8 698.2) rotate(-90)" x="0" y="0" font-size="20" fill="#000" stroke="#000" stroke-width="0.3" textLength="127.2" lengthAdjust="spacingAndGlyphs">PCA2 (14.6%)</text>
<text x="62.7" y="15.7" font-size="21.5" font-weight="bold" fill="#000">(a)</text>
<rect x="58" y="452" width="34" height="19" fill="#fff"/>
<text x="62.7" y="470.5" font-size="21.5" font-weight="bold" fill="#000">(b)</text>
<text x="578.1" y="561" font-size="20" fill="#000" stroke="#000" stroke-width="0.3">Contribution</text>
<rect x="577.8" y="573.0" width="31.4" height="158.2" fill="url(#cg)"/>
<line x1="577.8" y1="609.7" x2="583.8" y2="609.7" stroke="#fff" stroke-width="1.1"/><line x1="603.2" y1="609.7" x2="609.2" y2="609.7" stroke="#fff" stroke-width="1.1"/>
<text x="619.6" y="616.1" font-size="16" fill="#000" stroke="#000" stroke-width="0.25">7.5</text>
<line x1="577.8" y1="650.1" x2="583.8" y2="650.1" stroke="#fff" stroke-width="1.1"/><line x1="603.2" y1="650.1" x2="609.2" y2="650.1" stroke="#fff" stroke-width="1.1"/>
<text x="619.6" y="656.5" font-size="16" fill="#000" stroke="#000" stroke-width="0.25">5.0</text>
<line x1="577.8" y1="689.8" x2="583.8" y2="689.8" stroke="#fff" stroke-width="1.1"/><line x1="603.2" y1="689.8" x2="609.2" y2="689.8" stroke="#fff" stroke-width="1.1"/>
<text x="619.6" y="696.2" font-size="16" fill="#000" stroke="#000" stroke-width="0.25">2.5</text>
<text x="578.9" y="787.4" font-size="20" fill="#000" stroke="#000" stroke-width="0.3">Tree age</text>
<rect x="578.9" y="801.3" width="29.2" height="29.0" fill="#E6EEF8"/>
<rect x="578.9" y="832.9" width="29.2" height="29.0" fill="#FCF6E2"/>
<circle cx="593.5" cy="815.8" r="8.4" fill="#3777B3" stroke="#000" stroke-width="1.7"/>
<circle cx="593.5" cy="847.4" r="8.4" fill="#DFB22C" stroke="#000" stroke-width="1.7"/>
<text x="619.7" y="822.2" font-size="16" fill="#000" stroke="#000" stroke-width="0.25">Mature</text>
<text x="620.6" y="853.5" font-size="16" fill="#000" stroke="#000" stroke-width="0.25">Young</text>
</svg></body></html>
